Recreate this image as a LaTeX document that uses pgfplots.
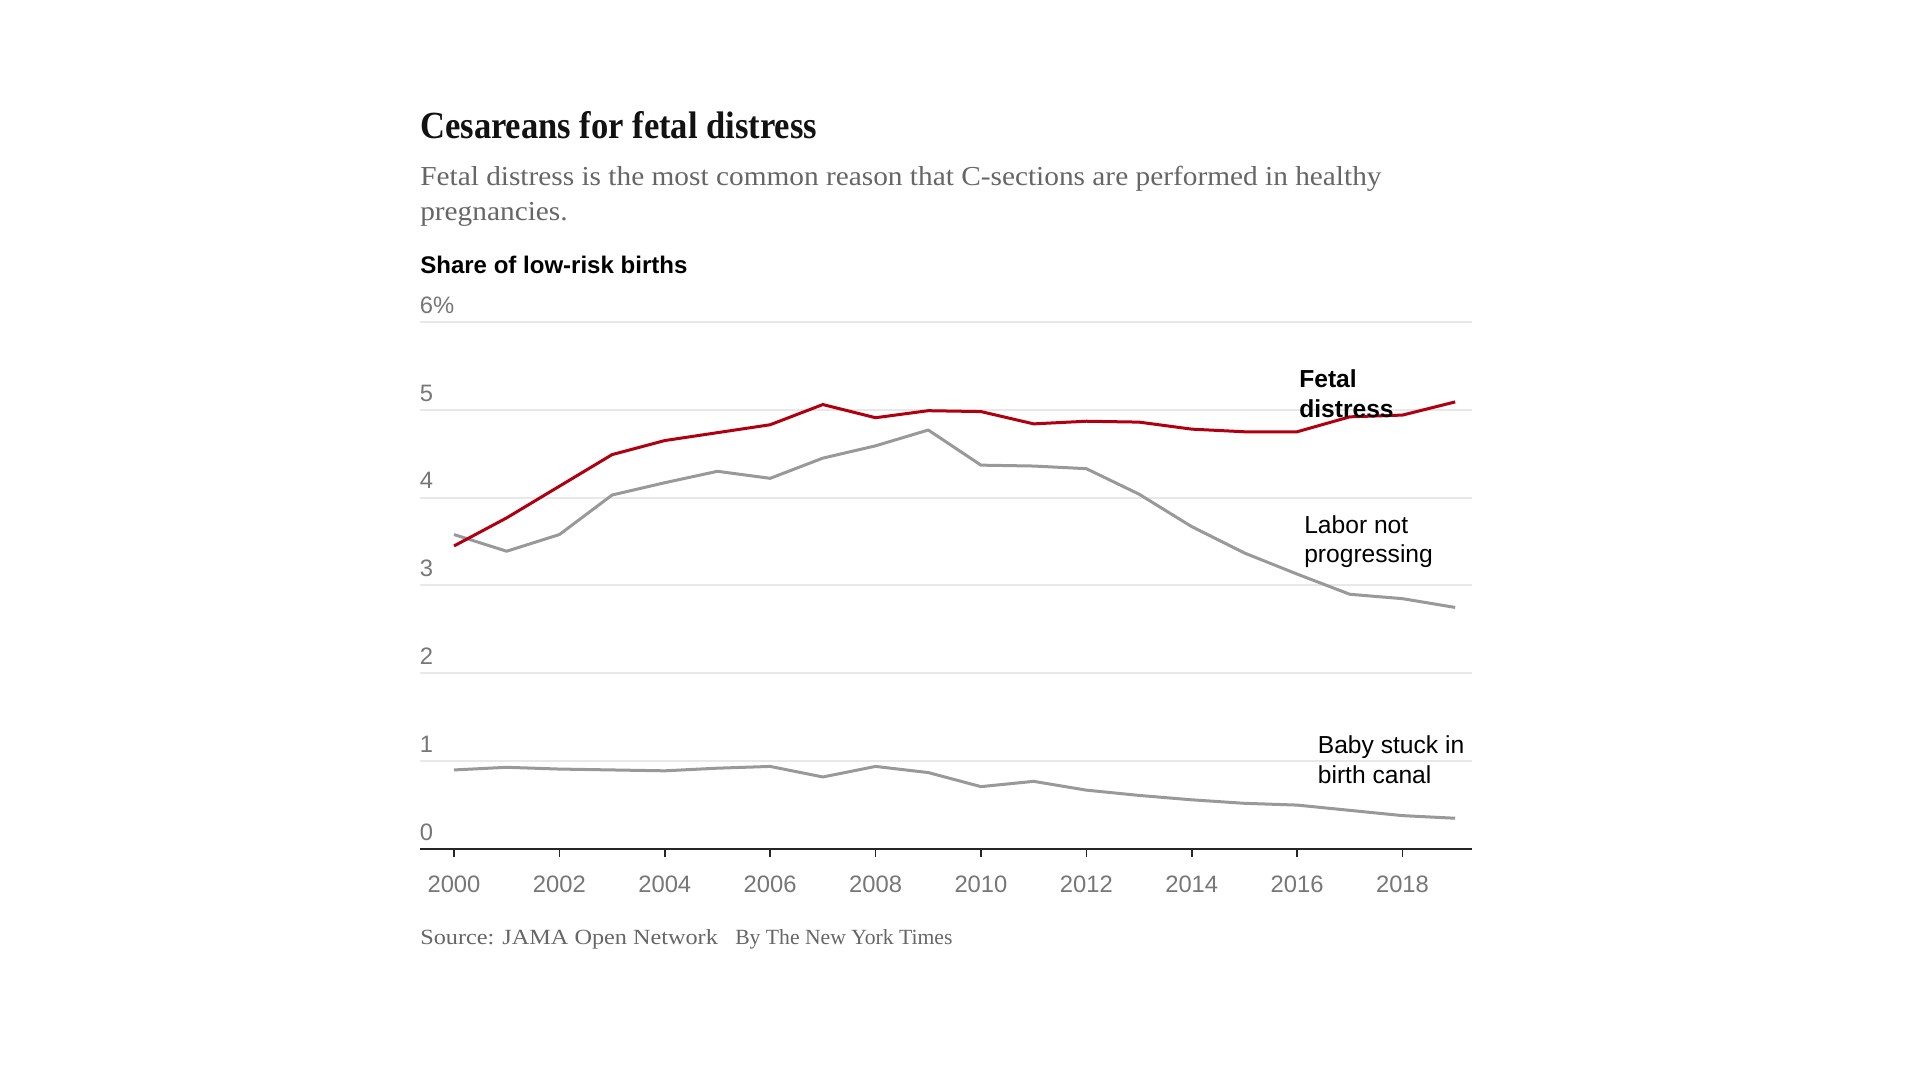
\documentclass[border=0pt]{standalone}
\usepackage{pgfplots}
\pgfplotsset{compat=1.18}
\usepackage{pgfplotstable}
\usepackage{fontspec}
\setmainfont{Liberation Sans}
\newfontfamily\headfont[FakeStretch=0.9]{Liberation Serif}
\newfontfamily\deckfont[FakeStretch=1.07]{Liberation Serif}
\newfontfamily\srcfont[FakeStretch=1.12]{Liberation Serif}
\newfontfamily\bylinefont{Liberation Serif}

\definecolor{fetalred}{HTML}{B0000F}
\definecolor{linegrey}{HTML}{999999}
\definecolor{gridgrey}{HTML}{E8E8E8}
\definecolor{ticktext}{HTML}{777777}
\definecolor{decktext}{HTML}{666666}
\definecolor{inkblack}{HTML}{121212}

% Share of low-risk births (%) by reason for the C-section
\pgfplotstableread{
year fetal labor stuck
2000 3.45 3.58 0.90
2001 3.77 3.39 0.93
2002 4.13 3.58 0.91
2003 4.49 4.03 0.90
2004 4.65 4.17 0.89
2005 4.74 4.30 0.92
2006 4.83 4.22 0.94
2007 5.06 4.45 0.82
2008 4.91 4.59 0.94
2009 4.99 4.77 0.87
2010 4.98 4.37 0.71
2011 4.84 4.36 0.77
2012 4.87 4.33 0.67
2013 4.86 4.04 0.61
2014 4.78 3.67 0.56
2015 4.75 3.37 0.52
2016 4.75 3.13 0.50
2017 4.92 2.90 0.44
2018 4.94 2.85 0.38
2019 5.09 2.75 0.35
}\births

\begin{document}
\begin{tikzpicture}
% canvas: 1 unit = 0.25mm
\begin{scope}[x=0.25mm,y=0.25mm]
\path[use as bounding box, fill=white] (0,0) rectangle (1920,1080);

% headline, deck and unit label
\node[anchor=base west, inner sep=0pt, text=inkblack,
      font=\headfont\bfseries\fontsize{27.3}{32}\selectfont] at (420,941) {Cesareans for fetal distress};
\node[anchor=base west, inner sep=0pt, text=decktext,
      font=\deckfont\fontsize{19.5}{24}\selectfont] at (420,894.3)
      {Fetal distress is the most common reason that C-sections are performed in healthy};
\node[anchor=base west, inner sep=0pt, text=decktext,
      font=\deckfont\fontsize{19.5}{24}\selectfont] at (420,859.3) {pregnancies.};
\node[anchor=base west, inner sep=0pt, text=black,
      font=\bfseries\fontsize{17.1}{20}\selectfont] at (420,806) {Share of low-risk births};
\end{scope}

\begin{axis}[
  at={(105mm,57.75mm)}, anchor=south west,
  scale only axis, width=263mm, height=131.75mm,
  xmin=1999.355, xmax=2019.32, ymin=0, ymax=6,
  axis x line=bottom, axis y line=left,
  axis line style={-},
  x axis line style={draw=black!85, line width=0.45mm},
  y axis line style={draw=none},
  xtick={2000,2002,...,2018},
  ytick={0,1,2,3,4,5,6},
  yticklabels={0,1,2,3,4,5,6\%},
  tick align=outside,
  major tick length=2mm,
  xtick style={draw=black!85, line width=0.4mm},
  ytick style={draw=none},
  ymajorgrids,
  grid style={draw=gridgrey, line width=0.5mm},
  /pgf/number format/assume math mode=true,
  /pgf/number format/1000 sep={},
  tick label style={font=\fontsize{16.9}{20}\selectfont, text=ticktext},
  xticklabel style={anchor=base, inner sep=0pt, yshift=-8.9mm},
  yticklabel style={anchor=base west, inner sep=0pt, xshift=1.9mm, yshift=2.2mm},
  clip=false,
]
\addplot[linegrey, line width=0.75mm, line join=round] table[x=year, y=stuck] {\births};
\addplot[linegrey, line width=0.75mm, line join=round] table[x=year, y=labor] {\births};
\addplot[fetalred, line width=0.75mm, line join=round] table[x=year, y=fetal] {\births};
\end{axis}

\begin{scope}[x=0.25mm,y=0.25mm]
% direct series labels
\begin{scope}[every node/.style={anchor=base west, inner sep=0pt, font=\fontsize{17.5}{21}\selectfont}]
\node[font=\bfseries\fontsize{17.5}{21}\selectfont] at (1299,692) {Fetal};
\node[font=\bfseries\fontsize{17.5}{21}\selectfont] at (1299,662.4) {distress};
\node at (1304,546) {Labor not};
\node at (1304,517) {progressing};
\node at (1317.6,326) {Baby stuck in};
\node at (1317.6,296) {birth canal};
\end{scope}

% source line
\node[anchor=base west, inner sep=0pt, text=decktext,
      font=\srcfont\fontsize{15.4}{18}\selectfont] at (420,136) {Source: JAMA Open Network};
\node[anchor=base west, inner sep=0pt, text=decktext,
      font=\bylinefont\fontsize{15.4}{18}\selectfont] at (735,136) {By The New York Times};
\end{scope}
\end{tikzpicture}
\end{document}
